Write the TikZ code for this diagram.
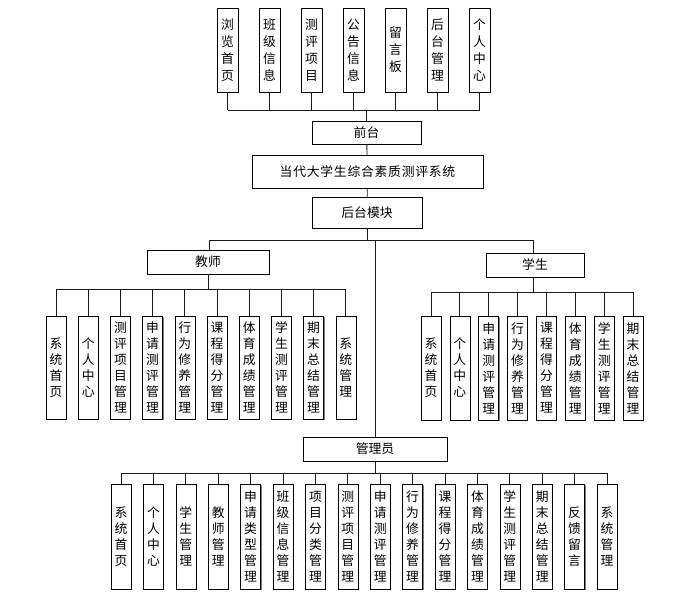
\documentclass[tikz,border=0pt]{standalone}
\usepackage{fontspec}
\setmainfont{Noto Sans CJK SC}
\usetikzlibrary{shadows}
\tikzset{
  box/.style={draw=black, line width=0.6pt, fill=white, inner sep=0pt,
    drop shadow={shadow xshift=0.9pt, shadow yshift=-0.9pt, fill=black!50, opacity=1}},
  vbox/.style={box, minimum width=20pt, align=center, font=\fontsize{12.8}{16}\selectfont},
  hbox/.style={box, font=\fontsize{12.8}{14}\selectfont},
  conn/.style={line width=0.9pt, draw=black!90},
}
\begin{document}
\begin{tikzpicture}[x=1pt, y=-1pt]
\useasboundingbox (0,0) rectangle (688,594);
% top row
\foreach \t [count=\i from 0] in {
  {浏\\览\\首\\页},{班\\级\\信\\息},{测\\评\\项\\目},{公\\告\\信\\息},
  {留\\言\\板},{后\\台\\管\\理},{个\\人\\中\\心}}
  \node[vbox, minimum width=21pt, minimum height=84pt, font=\fontsize{12.8}{17}\selectfont] (t\i) at ({227.5+42*\i},50) {\t};
\node[hbox, minimum width=109pt, minimum height=23pt] (qiantai) at (366.5,132.5) {前台};
\node[hbox, minimum width=231pt, minimum height=33pt, font=\fontsize{12.8}{14}\selectfont\addfontfeature{LetterSpace=6}] (sys) at (367.5,171.5) {当代大学生综合素质测评系统};
\node[hbox, minimum width=110pt, minimum height=31pt] (houtai) at (367,212.5) {后台模块};
\node[hbox, minimum width=122pt, minimum height=24pt] (js) at (208,262) {教师};
\node[hbox, minimum width=98pt, minimum height=24pt] (xs) at (535,265) {学生};
\node[hbox, minimum width=144pt, minimum height=24pt] (gl) at (375,449) {管理员};
% teacher children
\foreach \t [count=\i from 0] in {
  {系\\统\\首\\页},{个\\人\\中\\心},{测\\评\\项\\目\\管\\理},{申\\请\\测\\评\\管\\理},
  {行\\为\\修\\养\\管\\理},{课\\程\\得\\分\\管\\理},{体\\育\\成\\绩\\管\\理},
  {学\\生\\测\\评\\管\\理},{期\\末\\总\\结\\管\\理},{系\\统\\管\\理}}
  \node[vbox, minimum height=103pt] (j\i) at ({56+32.2*\i},367.5) {\t};
% student children
\foreach \t [count=\i from 0] in {
  {系\\统\\首\\页},{个\\人\\中\\心},{申\\请\\测\\评\\管\\理},
  {行\\为\\修\\养\\管\\理},{课\\程\\得\\分\\管\\理},{体\\育\\成\\绩\\管\\理},
  {学\\生\\测\\评\\管\\理},{期\\末\\总\\结\\管\\理}}
  \node[vbox, minimum height=104pt] (s\i) at ({431+28.86*\i},368) {\t};
% admin children
\foreach \t [count=\i from 0] in {
  {系\\统\\首\\页},{个\\人\\中\\心},{学\\生\\管\\理},{教\\师\\管\\理},
  {申\\请\\类\\型\\管\\理},{班\\级\\信\\息\\管\\理},{项\\目\\分\\类\\管\\理},
  {测\\评\\项\\目\\管\\理},{申\\请\\测\\评\\管\\理},{行\\为\\修\\养\\管\\理},
  {课\\程\\得\\分\\管\\理},{体\\育\\成\\绩\\管\\理},{学\\生\\测\\评\\管\\理},
  {期\\末\\总\\结\\管\\理},{反\\馈\\留\\言},{系\\统\\管\\理}}
  \node[vbox, minimum height=105pt] (a\i) at ({121+32.4*\i},536.5) {\t};
% connectors: top
\coordinate (topbus) at (367,110);
\foreach \i in {0,...,6} \draw[conn] (t\i.south) -- (t\i.south |- topbus);
\draw[conn] (t0.south |- topbus) -- (t6.south |- topbus);
\draw[conn] (qiantai.north) -- (qiantai.north |- topbus);
\draw[conn] (qiantai) -- (sys);
\draw[conn] (sys) -- (houtai);
% back-end bus
\coordinate (midbus) at (367,240);
\coordinate (jsx) at (209,240);
\coordinate (xsx) at (533,240);
\coordinate (glx) at (375,240);
\draw[conn] (houtai.south) -- (midbus);
\draw[conn] (jsx) -- (xsx);
\draw[conn] (jsx) -- (jsx |- js.north);
\draw[conn] (xsx) -- (xsx |- xs.north);
\draw[conn] (glx) -- (glx |- gl.north);
% teacher bus
\coordinate (jbus) at (208,289);
\draw[conn] (js.south) -- (jbus);
\draw[conn] (j0.north |- jbus) -- (j9.north |- jbus);
\foreach \i in {0,...,9} \draw[conn] (j\i.north) -- (j\i.north |- jbus);
% student bus
\coordinate (sbus) at (533,292);
\draw[conn] (sbus |- xs.south) -- (sbus);
\draw[conn] (s0.north |- sbus) -- (s7.north |- sbus);
\foreach \i in {0,...,7} \draw[conn] (s\i.north) -- (s\i.north |- sbus);
% admin bus
\coordinate (abus) at (375,473);
\draw[conn] (gl.south) -- (abus);
\draw[conn] (a0.north |- abus) -- (a15.north |- abus);
\foreach \i in {0,...,15} \draw[conn] (a\i.north) -- (a\i.north |- abus);
\end{tikzpicture}
\end{document}
